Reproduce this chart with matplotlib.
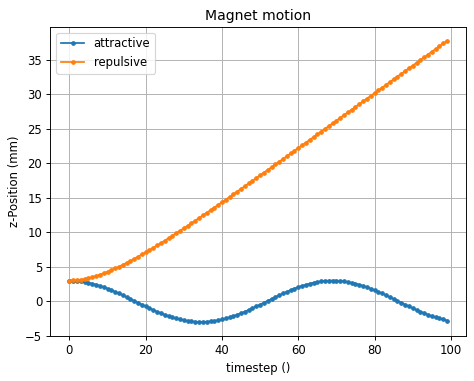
import matplotlib
matplotlib.use("Agg")
import matplotlib.pyplot as plt

# timestep 0..99
timesteps = list(range(100))

# z-position (mm)
attractive = [
    3.00, 2.99, 2.95, 2.89, 2.80, 2.69, 2.56, 2.41, 2.24, 2.05,
    1.84, 1.62, 1.38, 1.13, 0.87, 0.61, 0.34, 0.07, -0.20, -0.48,
    -0.74, -1.00, -1.26, -1.50, -1.73, -1.95, -2.15, -2.33, -2.49, -2.63,
    -2.75, -2.85, -2.92, -2.97, -3.00, -3.00, -2.97, -2.92, -2.85, -2.75,
    -2.63, -2.49, -2.33, -2.15, -1.95, -1.73, -1.50, -1.26, -1.00, -0.74,
    -0.48, -0.20, 0.07, 0.34, 0.61, 0.87, 1.13, 1.38, 1.62, 1.84,
    2.05, 2.24, 2.41, 2.56, 2.69, 2.80, 2.89, 2.95, 2.99, 3.00,
    2.99, 2.95, 2.89, 2.80, 2.69, 2.56, 2.41, 2.24, 2.05, 1.84,
    1.62, 1.38, 1.13, 0.87, 0.61, 0.34, 0.07, -0.20, -0.48, -0.74,
    -1.00, -1.26, -1.50, -1.73, -1.95, -2.15, -2.33, -2.49, -2.63, -2.80,
]

repulsive = [
    3.00, 3.02, 3.06, 3.14, 3.24, 3.36, 3.51, 3.68, 3.86, 4.07,
    4.29, 4.52, 4.77, 5.02, 5.29, 5.58, 5.87, 6.16, 6.47, 6.79,
    7.11, 7.43, 7.77, 8.11, 8.45, 8.80, 9.15, 9.51, 9.87, 10.23,
    10.59, 10.96, 11.33, 11.71, 12.08, 12.46, 12.84, 13.22, 13.60, 13.99,
    14.37, 14.76, 15.14, 15.53, 15.92, 16.31, 16.70, 17.10, 17.49, 17.88,
    18.27, 18.67, 19.06, 19.46, 19.85, 20.25, 20.65, 21.04, 21.44, 21.84,
    22.23, 22.63, 23.03, 23.43, 23.82, 24.22, 24.62, 25.02, 25.42, 25.82,
    26.21, 26.61, 27.01, 27.41, 27.81, 28.21, 28.61, 29.01, 29.41, 29.81,
    30.21, 30.60, 31.00, 31.40, 31.80, 32.20, 32.60, 33.00, 33.40, 33.80,
    34.20, 34.60, 35.00, 35.40, 35.80, 36.20, 36.60, 37.00, 37.40, 37.80,
]

fig = plt.figure(figsize=(474 / 84, 381 / 84), dpi=84)
ax = fig.add_axes([0.1065, 0.1181, 0.8765, 0.8119])

ax.plot(timesteps, attractive, '.-', label='attractive')
ax.plot(timesteps, repulsive, '.-', label='repulsive')
ax.set_title('Magnet motion')
ax.set_xlabel('timestep ()')
ax.set_ylabel('z-Position (mm)')
ax.grid(True)
ax.legend(loc='upper left')

fig.savefig('out.png', dpi=84)
